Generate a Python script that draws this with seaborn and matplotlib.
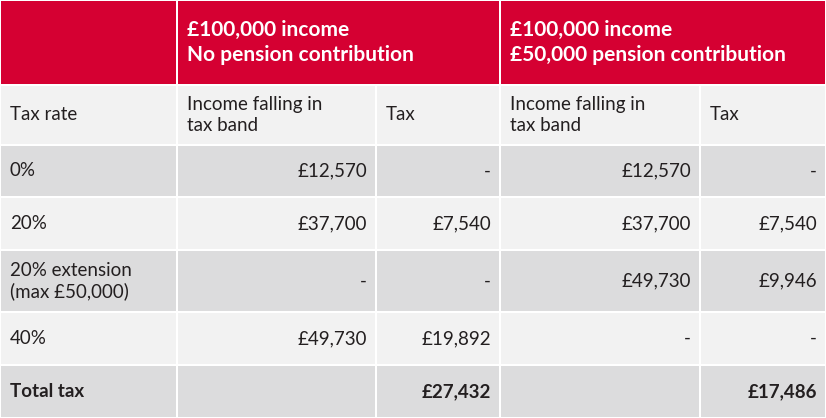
import matplotlib
matplotlib.use("Agg")
import matplotlib.pyplot as plt
import seaborn as sns
from matplotlib.patches import Rectangle

sns.set_style("white")
plt.rcParams['font.family'] = ['Lato', 'DejaVu Sans']

# table content
group_titles = ["£100,000 income\nNo pension contribution",
                "£100,000 income\n£50,000 pension contribution"]
sub_headers = ["Tax rate", "Income falling in\ntax band", "Tax", "Income falling in\ntax band", "Tax"]
rates = ["0%", "20%", "20% extension\n(max £50,000)", "40%", "Total tax"]
income_a = ["£12,570", "£37,700", "-", "£49,730", ""]
tax_a = ["-", "£7,540", "-", "£19,892", "£27,432"]
income_b = ["£12,570", "£37,700", "£49,730", "-", ""]
tax_b = ["-", "£7,540", "£9,946", "-", "£17,486"]

RED = "#d50032"
LIGHT = "#f2f2f2"
GRAY = "#dcdcdd"
TXT = "#231f20"

col_x = [0, 177, 376, 500, 700, 826]
row_y = [0, 85, 145, 197, 250, 312, 365, 418]
gap = 1.2

fig, ax = plt.subplots(figsize=(8.26, 4.18), dpi=100)
fig.subplots_adjust(0, 0, 1, 1)
ax.set_xlim(0, 826)
ax.set_ylim(418, 0)
ax.axis("off")

def cell(x0, x1, y0, y1, color):
    ax.add_patch(Rectangle((x0 + gap, y0 + gap), x1 - x0 - 2 * gap, y1 - y0 - 2 * gap,
                           facecolor=color, edgecolor="none"))

# header row
cell(col_x[0], col_x[1], row_y[0], row_y[1], RED)
for i, t in enumerate(group_titles):
    x0, x1 = col_x[1 + 2 * i], col_x[3 + 2 * i]
    cell(x0, x1, row_y[0], row_y[1], RED)
    ax.text(x0 + 10, (row_y[0] + row_y[1]) / 2, t, color="white", fontsize=15,
            fontweight="bold", va="center", ha="left", linespacing=1.35)

# sub header row
for j, t in enumerate(sub_headers):
    cell(col_x[j], col_x[j + 1], row_y[1], row_y[2], LIGHT)
    ax.text(col_x[j] + 10, (row_y[1] + row_y[2]) / 2, t, color=TXT, fontsize=13.5,
            va="center", ha="left", linespacing=1.25)

# body rows
for r in range(len(rates)):
    y0, y1 = row_y[2 + r], row_y[3 + r]
    bg = GRAY if r % 2 == 0 else LIGHT
    total = r == len(rates) - 1
    vals = [income_a[r], tax_a[r], income_b[r], tax_b[r]]
    for j in range(5):
        cell(col_x[j], col_x[j + 1], y0, y1, bg)
    ax.text(10, (y0 + y1) / 2, rates[r], color=TXT, fontsize=13.5, va="center", ha="left",
            fontweight="bold" if total else "normal", linespacing=1.25)
    for j, v in enumerate(vals):
        ax.text(col_x[j + 2] - 9, (y0 + y1) / 2, v, color=TXT, fontsize=13.5,
                va="center", ha="right", fontweight="bold" if total else "normal")

fig.savefig("out.png", dpi=100)
